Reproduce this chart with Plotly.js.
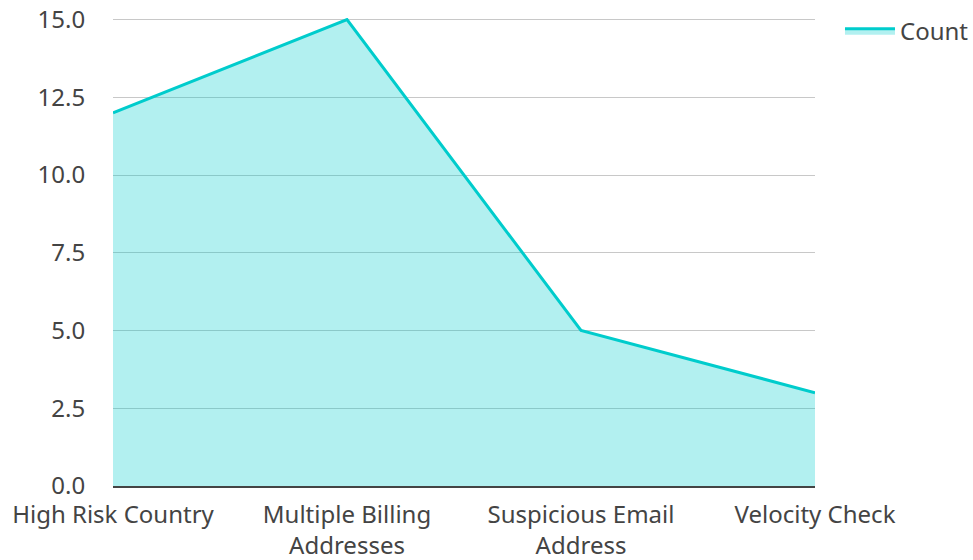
<!DOCTYPE html>
<html>
<head>
<meta charset="utf-8">
<script src="https://cdn.plot.ly/plotly-3.0.1.min.js"></script>
<style>html,body{margin:0;padding:0;background:#fff}#chart{width:973px;height:560px}</style>
</head>
<body>
<div id="chart"></div>
<script>
const categories = ["High Risk Country", "Multiple Billing<br>Addresses", "Suspicious Email<br>Address", "Velocity Check"];
const counts = [12, 15, 5, 3];
const seriesName = "Count";
const yTicks = [0, 2.5, 5, 7.5, 10, 12.5, 15];

const trace = {
  x: categories,
  y: counts,
  name: seriesName,
  type: "scatter",
  mode: "lines",
  fill: "tozeroy",
  fillcolor: "rgba(0,204,204,0.3)",
  line: {color: "#00cccc", width: 3},
  showlegend: true
};

const layout = {
  width: 973, height: 560,
  margin: {l: 113, r: 158, t: 18, b: 74, autoexpand: false},
  paper_bgcolor: "#fff", plot_bgcolor: "#fff",
  font: {family: "Noto Sans, sans-serif", size: 24, color: "#444"},
  showlegend: true,
  legend: {x: 1.0356, y: 1.02, xanchor: "left", yanchor: "top", itemwidth: 50, font: {size: 24, color: "#444"}},
  xaxis: {
    type: "category", range: [0, 3], showgrid: false,
    showline: true, linecolor: "#444", linewidth: 2,
    ticks: "", tickfont: {size: 24}, ticklabelstandoff: 6
  },
  yaxis: {
    range: [0, 15.05], tickvals: yTicks, ticktext: yTicks.map(v => v.toFixed(1)),
    showgrid: true, gridcolor: "#c8c8c8", gridwidth: 1,
    zeroline: false, showline: false,
    ticks: "outside", ticklen: 22, tickcolor: "rgba(0,0,0,0)",
    tickfont: {size: 24}
  }
};

Plotly.newPlot("chart", [trace], layout, {displayModeBar: false, staticPlot: true});
</script>
</body>
</html>
